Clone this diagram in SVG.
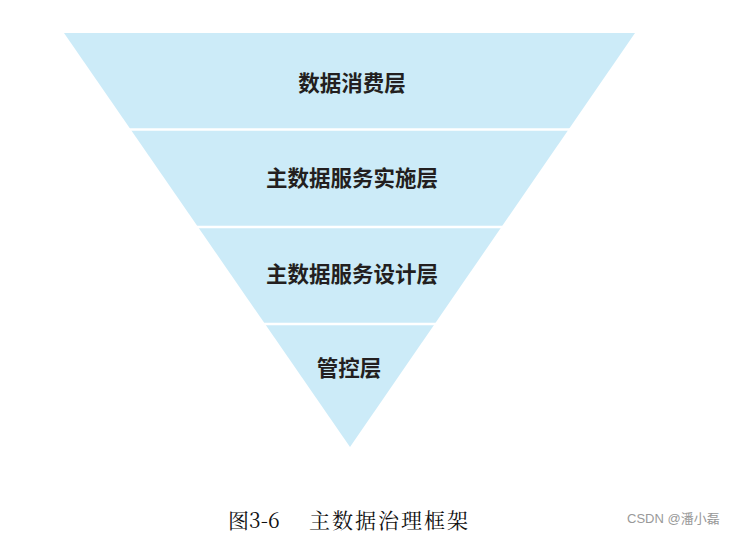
<svg xmlns="http://www.w3.org/2000/svg" width="741" height="535" viewBox="0 0 741 535">
<style>
.band{fill:#CCEBF8}
.sep{stroke:#FFFFFF;stroke-width:2.5}
.lbl{font-family:"Noto Sans CJK SC","Noto Sans",sans-serif;font-size:21.5px;font-weight:bold;fill:#231F20;text-anchor:middle;dominant-baseline:central}
.cap{font-family:"Noto Serif CJK SC","Noto Sans CJK SC",serif;font-size:21px;fill:#111}
.wm{font-family:"Liberation Sans","Noto Sans CJK SC",sans-serif;font-size:13px;fill:#999}
</style>
<rect width="741" height="535" fill="#FFFFFF"/>
<g id="pyramid">
<polygon class="band" points="64,33 635,33 350,447"/>
</g>
<g id="connectors">
<line class="sep" x1="120" y1="129.5" x2="580" y2="129.5"/>
<line class="sep" x1="180" y1="227" x2="520" y2="227"/>
<line class="sep" x1="240" y1="324" x2="460" y2="324"/>
</g>
<g id="layer1"><text class="lbl" x="352" y="81">数据消费层</text></g>
<g id="layer2"><text class="lbl" x="352" y="176">主数据服务实施层</text></g>
<g id="layer3"><text class="lbl" x="352" y="272">主数据服务设计层</text></g>
<g id="layer4"><text class="lbl" x="349" y="366">管控层</text></g>
<g id="caption">
<text class="cap" x="228" y="528" font-family="Liberation Mono,Noto Sans CJK SC,monospace">图3-6</text>
<text class="cap" x="309" y="528" letter-spacing="2">主数据治理框架</text>
</g>
<text class="wm" x="627" y="523">CSDN @潘小磊</text>
</svg>
